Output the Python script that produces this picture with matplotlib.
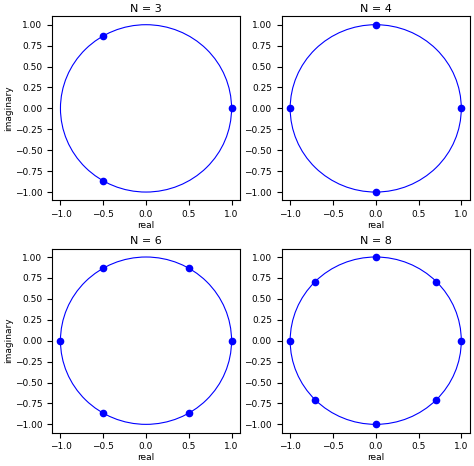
import matplotlib
matplotlib.use('Agg')
import matplotlib.pyplot as plt

# Points (real, imaginary) for each N
orders = [3, 4, 6, 8]
real_parts = {
    3: [1.0, -0.5, -0.5],
    4: [1.0, 0.0, -1.0, 0.0],
    6: [1.0, 0.5, -0.5, -1.0, -0.5, 0.5],
    8: [1.0, 0.707, 0.0, -0.707, -1.0, -0.707, 0.0, 0.707],
}
imag_parts = {
    3: [0.0, 0.866, -0.866],
    4: [0.0, 1.0, 0.0, -1.0],
    6: [0.0, 0.866, 0.866, 0.0, -0.866, -0.866],
    8: [0.0, 0.707, 1.0, 0.707, 0.0, -0.707, -1.0, -0.707],
}
ticks = [-1.0, -0.5, 0.0, 0.5, 1.0]
yticks = [-1.0, -0.75, -0.5, -0.25, 0.0, 0.25, 0.5, 0.75, 1.0]

fig, axes = plt.subplots(2, 2, figsize=(4.74, 4.66), dpi=100)

for i, (ax, n) in enumerate(zip(axes.flat, orders)):
    ax.add_patch(plt.Circle((0, 0), 1.0, fill=False, color='blue', linewidth=0.8))
    ax.plot(real_parts[n], imag_parts[n], 'o', color='blue', markersize=4.5)
    ax.set_xlim(-1.1, 1.1)
    ax.set_ylim(-1.1, 1.1)
    ax.set_xticks(ticks)
    ax.set_yticks(yticks)
    ax.tick_params(labelsize=6.5)
    ax.set_title('N = %d' % n, fontsize=8, pad=3)
    ax.set_xlabel('real', fontsize=6.5, labelpad=1)
    if i % 2 == 0:
        ax.set_ylabel('imaginary', fontsize=6.5, labelpad=1)

plt.tight_layout(pad=0.3, h_pad=0.5, w_pad=0.3)
plt.savefig('out.png', dpi=100, facecolor='white')
plt.close()
